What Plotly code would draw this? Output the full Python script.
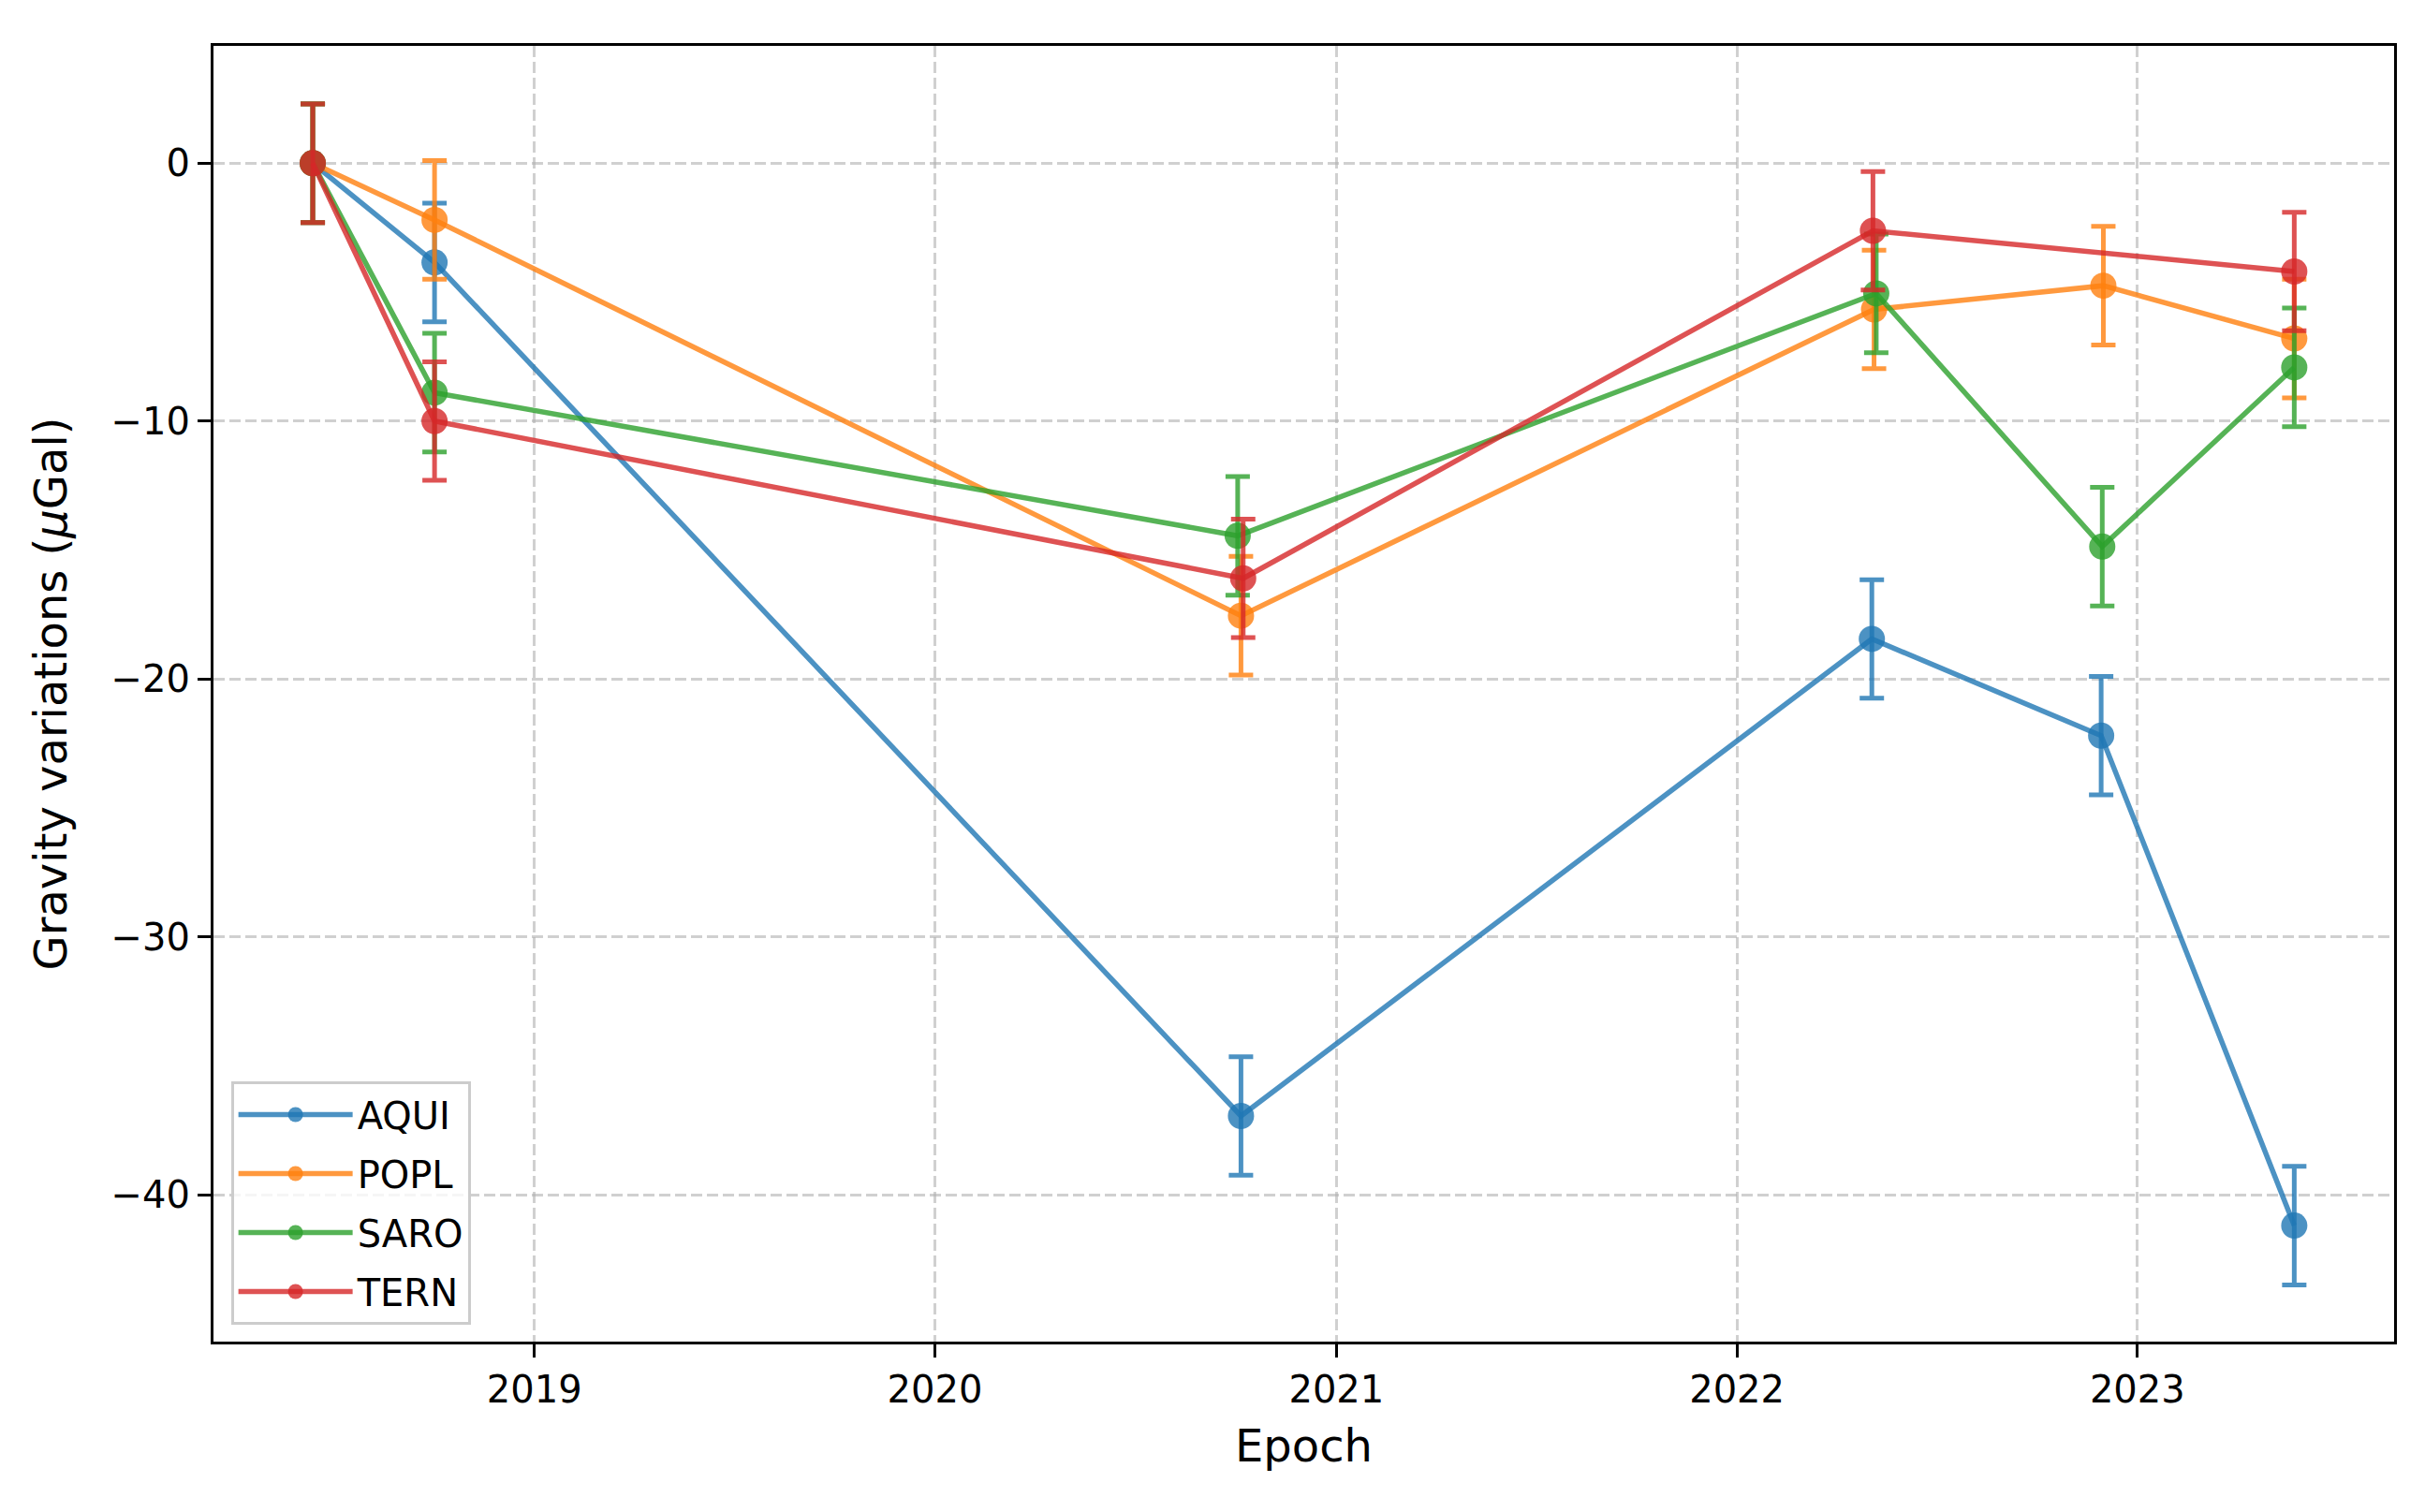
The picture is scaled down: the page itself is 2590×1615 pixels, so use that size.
import plotly.graph_objects as go

# ---- data ----
stations = ["AQUI", "POPL", "SARO", "TERN"]
colors = ["31,119,180", "255,127,14", "44,160,44", "214,39,40"]

aqui_dates = ["2018-06-13", "2018-10-02", "2020-10-06", "2022-05-04", "2022-11-29", "2023-05-24"]
aqui_vals = [0.0, -3.85, -36.95, -18.45, -22.2, -41.2]
aqui_err = [2.3, 2.3, 2.3, 2.3, 2.3, 2.3]

popl_dates = ["2018-06-13", "2018-10-02", "2020-10-06", "2022-05-06", "2022-12-01", "2023-05-24"]
popl_vals = [0.0, -2.2, -17.55, -5.67, -4.75, -6.8]
popl_err = [2.3, 2.3, 2.3, 2.3, 2.3, 2.3]

saro_dates = ["2018-06-13", "2018-10-02", "2020-10-03", "2022-05-08", "2022-11-30", "2023-05-24"]
saro_vals = [0.0, -8.9, -14.45, -5.05, -14.87, -7.92]
saro_err = [2.3, 2.3, 2.3, 2.3, 2.3, 2.3]

tern_dates = ["2018-06-13", "2018-10-02", "2020-10-08", "2022-05-05", "2023-05-24"]
tern_vals = [0.0, -10.0, -16.1, -2.62, -4.2]
tern_err = [2.3, 2.3, 2.3, 2.3, 2.3]

all_dates = [aqui_dates, popl_dates, saro_dates, tern_dates]
all_vals = [aqui_vals, popl_vals, saro_vals, tern_vals]
all_errs = [aqui_err, popl_err, saro_err, tern_err]

y_ticks = [-40, -30, -20, -10, 0]
x_range = ["2018-03-14 12:00", "2023-08-23"]
y_range = [-45.7, 4.55]

FONT = "DejaVu Sans"

fig = go.Figure()
for name, c, d, v, e in zip(stations, colors, all_dates, all_vals, all_errs):
    col = f"rgba({c},0.8)"
    fig.add_trace(go.Scatter(
        x=d, y=v, name=name, mode="lines+markers",
        legendgroup=name,
        line=dict(color=col, width=5.5),
        marker=dict(color=col, size=28, symbol="circle", line=dict(width=0)),
        error_y=dict(type="data", array=e, visible=True, color=col,
                     thickness=5, width=13),
    ))

axis_common = dict(
    showline=True, linecolor="black", linewidth=3, mirror=True,
    ticks="outside", ticklen=14, tickwidth=3, tickcolor="black",
    showgrid=True, gridcolor="rgba(176,176,176,0.6)", gridwidth=3,
    griddash="12px,5px",
    zeroline=False,
    tickfont=dict(family=FONT, size=40, color="black"),
)

fig.update_xaxes(
    type="date", range=x_range, dtick="M12", tick0="2019-01-01",
    tickformat="%Y",
    title=dict(text="Epoch", font=dict(family=FONT, size=48, color="black"), standoff=22),
    **axis_common,
)
fig.update_yaxes(
    range=y_range, tickvals=y_ticks,
    title=dict(text="Gravity variations (<i>μ</i>Gal)",
               font=dict(family=FONT, size=48, color="black"), standoff=32),
    **axis_common,
)

fig.update_layout(
    width=2590, height=1615,
    margin=dict(l=228, r=33, t=49, b=182),
    plot_bgcolor="white", paper_bgcolor="white",
    font=dict(family=FONT, color="black"),
    showlegend=True,
    legend=dict(
        x=0.008, y=0.013, xanchor="left", yanchor="bottom",
        bgcolor="rgba(255,255,255,0.8)", bordercolor="rgba(204,204,204,1)",
        borderwidth=3, font=dict(family=FONT, size=40, color="black"),
        tracegroupgap=8, itemwidth=122,
    ),
)

fig.write_html("out.html")
